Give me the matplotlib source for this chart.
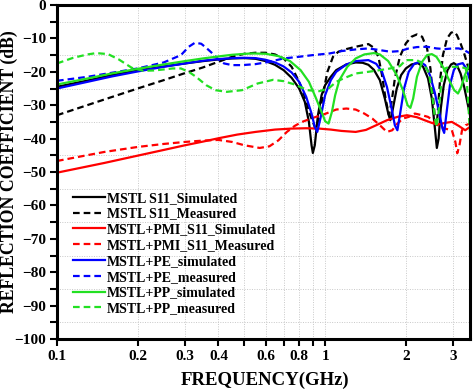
import matplotlib
matplotlib.use("Agg")
import matplotlib.pyplot as plt
from matplotlib.ticker import FixedLocator, NullLocator, FixedFormatter

plt.rcParams['font.family'] = ['Liberation Serif', 'DejaVu Serif']
plt.rcParams['font.weight'] = 'bold'

# ---- data (frequency in GHz, reflection coefficient in dB) ----
f_mstl_sim = [0.1, 0.13, 0.16, 0.2, 0.25, 0.3, 0.35, 0.4, 0.45, 0.5, 0.55, 0.6, 0.65, 0.7,
              0.75, 0.8, 0.84, 0.87, 0.89, 0.9, 0.915, 0.94, 0.97, 1.0, 1.05, 1.1, 1.2, 1.3,
              1.38, 1.45, 1.52, 1.6, 1.67, 1.72, 1.75, 1.78, 1.85, 1.92, 2.0, 2.1, 2.22, 2.32,
              2.42, 2.5, 2.56, 2.61, 2.65, 2.7, 2.77, 2.86, 2.95, 3.02, 3.1, 3.2, 3.3, 3.4, 3.47]
s_mstl_sim = [-24.5, -22.6, -21.0, -19.6, -18.4, -17.5, -16.8, -16.3, -16.0, -15.9, -16.1, -16.8,
              -17.9, -19.5, -21.8, -25.0, -29.0, -35.0, -42.0, -44.3, -42.0, -33.0, -27.0, -24.0,
              -21.5, -19.5, -17.8, -17.2, -17.3, -17.9, -19.4, -22.5, -28.0, -32.5, -34.5, -32.0,
              -25.0, -21.0, -19.0, -17.8, -17.4, -18.5, -22.0, -28.0, -36.0, -42.8, -40.0, -31.0,
              -24.0, -19.5, -17.8, -17.4, -18.0, -20.5, -24.5, -29.5, -33.0]

f_mstl_meas = [0.1, 0.15, 0.2, 0.25, 0.3, 0.35, 0.4, 0.45, 0.5, 0.55, 0.6, 0.65, 0.7, 0.75, 0.8,
               0.84, 0.88, 0.92, 0.95, 0.98, 1.02, 1.07, 1.12, 1.2, 1.3, 1.45, 1.52, 1.58, 1.63,
               1.68, 1.73, 1.77, 1.82, 1.9, 2.0, 2.1, 2.2, 2.3, 2.4, 2.47, 2.53, 2.58, 2.62, 2.68,
               2.75, 2.85, 2.95, 3.02, 3.1, 3.2, 3.3, 3.4, 3.47]
s_mstl_meas = [-33.0, -28.3, -25.0, -22.5, -20.4, -18.7, -17.0, -15.5, -14.6, -14.3, -14.3, -14.8,
               -16.0, -18.5, -23.0, -27.5, -33.0, -37.0, -34.0, -27.0, -20.0, -15.5, -14.0, -13.2,
               -12.5, -11.7, -12.8, -15.5, -21.0, -28.0, -33.0, -29.0, -22.0, -15.5, -11.5, -9.5,
               -8.8, -9.5, -13.0, -19.0, -28.0, -36.0, -34.0, -23.0, -15.0, -10.0, -8.3, -8.0,
               -9.0, -11.5, -14.5, -18.0, -20.5]

f_pmi_sim = [0.1, 0.15, 0.2, 0.25, 0.3, 0.35, 0.4, 0.47, 0.55, 0.65, 0.75, 0.85, 0.95, 1.05, 1.15,
             1.3, 1.42, 1.55, 1.7, 1.86, 2.02, 2.2, 2.35, 2.5, 2.63, 2.8, 2.97, 3.15, 3.33, 3.47]
s_pmi_sim = [-50.2, -47.3, -45.1, -43.4, -42.0, -40.9, -39.9, -38.8, -38.0, -37.3, -37.0, -36.9,
             -37.0, -37.3, -37.7, -38.0, -37.4, -36.0, -34.5, -33.5, -33.0, -33.6, -34.5, -35.3,
             -35.8, -35.3, -35.0, -36.2, -37.5, -36.5]

f_pmi_meas = [0.1, 0.15, 0.2, 0.25, 0.3, 0.35, 0.4, 0.45, 0.5, 0.57, 0.62, 0.67, 0.72, 0.77, 0.82,
              0.9, 1.0, 1.1, 1.2, 1.3, 1.4, 1.5, 1.6, 1.7, 1.78, 1.86, 1.95, 2.05, 2.16, 2.3,
              2.42, 2.52, 2.63, 2.8, 2.97, 3.06, 3.11, 3.17, 3.24, 3.34, 3.47]
s_pmi_meas = [-46.7, -44.0, -42.5, -41.6, -41.0, -40.6, -40.4, -41.0, -42.0, -42.8, -42.3, -40.5,
              -38.0, -36.2, -35.0, -33.8, -32.6, -31.3, -31.0, -31.3, -32.5, -34.0, -36.0, -38.0,
              -37.5, -35.5, -34.0, -33.5, -32.5, -33.0, -33.5, -34.5, -36.0, -37.0, -37.5, -41.0,
              -44.4, -42.0, -37.5, -36.0, -35.5]

f_pe_sim = [0.1, 0.13, 0.16, 0.2, 0.25, 0.3, 0.35, 0.4, 0.45, 0.5, 0.55, 0.6, 0.65, 0.7, 0.75,
            0.8, 0.85, 0.89, 0.915, 0.935, 0.96, 1.0, 1.05, 1.1, 1.2, 1.3, 1.45, 1.55, 1.63, 1.7,
            1.76, 1.82, 1.86, 1.9, 1.97, 2.05, 2.15, 2.26, 2.36, 2.46, 2.56, 2.66, 2.74, 2.78,
            2.83, 2.92, 3.02, 3.12, 3.26, 3.36, 3.47]
s_pe_sim = [-25.0, -23.0, -21.4, -19.9, -18.5, -17.5, -16.7, -16.2, -15.9, -15.8, -15.9, -16.4,
            -17.2, -18.4, -20.2, -23.0, -27.5, -32.5, -36.5, -38.0, -34.0, -27.0, -22.5, -20.0,
            -17.8, -16.8, -16.5, -17.6, -20.0, -24.5, -30.0, -36.0, -37.5, -33.0, -25.0, -20.0,
            -17.6, -17.0, -18.0, -21.0, -26.0, -32.0, -37.0, -38.3, -33.0, -24.0, -19.5, -17.8,
            -17.4, -19.0, -22.5]

f_pe_meas = [0.1, 0.13, 0.16, 0.2, 0.25, 0.29, 0.31, 0.327, 0.345, 0.36, 0.38, 0.4, 0.42, 0.45,
             0.49, 0.55, 0.62, 0.7, 0.8, 0.9, 1.04, 1.15, 1.3, 1.45, 1.6, 1.75, 1.9, 2.05, 2.2,
             2.4, 2.6, 2.8, 3.0, 3.15, 3.3, 3.47]
s_pe_meas = [-22.7, -21.5, -20.3, -19.0, -17.2, -15.0, -12.5, -11.3, -11.6, -12.8, -14.5, -16.3,
             -17.5, -18.0, -18.0, -17.7, -17.0, -16.0, -15.5, -15.0, -14.5, -13.8, -13.3, -13.0,
             -13.5, -14.0, -13.8, -13.0, -12.6, -12.5, -13.0, -13.2, -13.0, -13.0, -13.5, -14.5]

f_pp_sim = [0.1, 0.13, 0.16, 0.2, 0.25, 0.3, 0.35, 0.4, 0.45, 0.53, 0.6, 0.67, 0.74, 0.81, 0.87,
            0.92, 0.97, 1.0, 1.03, 1.06, 1.09, 1.13, 1.21, 1.3, 1.4, 1.52, 1.6, 1.72, 1.85, 1.95,
            2.03, 2.08, 2.13, 2.2, 2.3, 2.4, 2.5, 2.6, 2.75, 2.9, 3.03, 3.13, 3.22, 3.32, 3.47]
s_pp_sim = [-23.8, -22.0, -20.5, -19.1, -17.8, -16.8, -16.0, -15.4, -14.9, -14.5, -14.6, -15.3,
            -16.8, -19.5, -23.0, -27.5, -32.0, -34.8, -35.5, -32.0, -27.0, -22.5, -18.5, -16.0,
            -14.8, -14.4, -14.8, -16.8, -21.0, -25.5, -30.0, -30.8, -28.0, -21.5, -17.0, -15.0,
            -14.7, -15.5, -18.5, -22.5, -25.5, -26.5, -24.5, -21.0, -17.5]

f_pp_meas = [0.1, 0.115, 0.13, 0.14, 0.155, 0.17, 0.19, 0.21, 0.23, 0.25, 0.27, 0.29, 0.31, 0.33,
             0.36, 0.39, 0.43, 0.49, 0.56, 0.64, 0.7, 0.77, 0.86, 0.95, 1.03, 1.1, 1.17, 1.3,
             1.45, 1.6, 1.75, 1.9, 2.0, 2.2, 2.35, 2.44, 2.5, 2.56, 2.6, 2.65, 2.72, 2.8, 2.9,
             3.05, 3.2, 3.35, 3.41, 3.47]
s_pp_meas = [-17.5, -15.8, -14.8, -14.4, -14.7, -16.3, -18.8, -19.7, -19.6, -19.3, -19.0, -19.0,
             -20.0, -21.5, -24.0, -25.5, -26.0, -25.5, -23.5, -22.4, -22.8, -23.8, -25.5, -25.8,
             -25.0, -23.0, -22.0, -20.5, -20.0, -19.5, -19.0, -18.3, -16.5, -16.5, -18.0, -20.5,
             -26.0, -33.0, -36.5, -32.0, -22.0, -19.0, -18.5, -18.5, -18.5, -19.0, -28.0, -38.0]

legend_labels = ["MSTL S11_Simulated", "MSTL S11_Measured",
                 "MSTL+PMI_S11_Simulated", "MSTL+PMI_S11_Measured",
                 "MSTL+PE_simulated", "MSTL+PE_measured",
                 "MSTL+PP_simulated", "MSTL+PP_measured"]

xtick_vals = [0.1, 0.2, 0.3, 0.4, 0.5, 0.6, 0.7, 0.8, 0.9, 1, 2, 3]
xtick_labels = ["0.1", "0.2", "0.3", "0.4", "", "0.6", "", "0.8", "", "1", "2", "3"]
ytick_vals = list(range(-100, 1, 10))
ygrid_vals = list(range(-95, 0, 10))

# ---- figure ----
fig = plt.figure(figsize=(4.74, 3.92), dpi=100)
ax = fig.add_axes([57/474, 1-339/392, (470-57)/474, (339-5)/392])

black, red, blue, green = '#000000', '#ff0000', '#0000ff', '#22e022'
lw = 1.6
dash = (0, (3.0, 1.8))
series = [
    (f_mstl_sim, s_mstl_sim, black, '-'),
    (f_mstl_meas, s_mstl_meas, black, dash),
    (f_pmi_sim, s_pmi_sim, red, '-'),
    (f_pmi_meas, s_pmi_meas, red, dash),
    (f_pe_sim, s_pe_sim, blue, '-'),
    (f_pe_meas, s_pe_meas, blue, dash),
    (f_pp_sim, s_pp_sim, green, '-'),
    (f_pp_meas, s_pp_meas, green, dash),
]
for (fx, sy, c, ls), lab in zip(series, legend_labels):
    ax.plot(fx, sy, color=c, linestyle=ls, linewidth=lw, label=lab)

ax.set_xscale('log')
ax.set_xlim(0.1, 3.47)
ax.set_ylim(-100, 0)

ax.xaxis.set_major_locator(FixedLocator(xtick_vals))
ax.xaxis.set_major_formatter(FixedFormatter(xtick_labels))
ax.xaxis.set_minor_locator(NullLocator())
ax.yaxis.set_major_locator(FixedLocator(ytick_vals))
ax.yaxis.set_minor_locator(FixedLocator(ygrid_vals))

for v in xtick_vals[1:]:
    ax.axvline(v, color='#c8c8c8', linestyle=(0, (1, 1.5)), linewidth=0.7, zorder=0)
for v in ygrid_vals:
    ax.axhline(v, color='#c8c8c8', linestyle=(0, (1, 1.5)), linewidth=0.7, zorder=0)

ax.tick_params(axis='both', which='both', direction='out', width=1.5, length=5,
               labelsize=11, pad=3)
for lbl in ax.get_xticklabels() + ax.get_yticklabels():
    lbl.set_fontweight('bold')
for sp in ax.spines.values():
    sp.set_linewidth(2.2)

ax.set_xlabel("FREQUENCY(GHz)", fontsize=13.5, fontweight='bold')
ax.xaxis.label.set_va('center')
ax.xaxis.set_label_coords((265 - 57) / 413, (339 - 380) / 334)
ax.set_ylabel("REFLECTION COEFFICIENT (dB)", fontsize=12.8, fontweight='bold')
ax.yaxis.label.set_va('center')
ax.yaxis.set_label_coords((9 - 57) / 413, 0.5)

leg = ax.legend(loc='lower left', bbox_to_anchor=(0.015, 0.042), frameon=False,
                prop={'family': ['Liberation Serif'], 'weight': 'bold', 'size': 10},
                handlelength=2.3, handletextpad=0.15, labelspacing=0.2, borderpad=0.2)

fig.savefig("out.png", dpi=100)
